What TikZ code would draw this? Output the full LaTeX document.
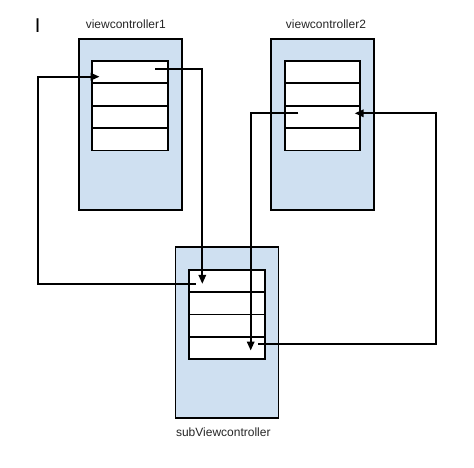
\documentclass[tikz,border=0pt]{standalone}
\usepackage{fontspec}
\setmainfont{Liberation Sans}
\usetikzlibrary{arrows.meta}
\definecolor{panelblue}{RGB}{207,224,241}
\tikzset{
  x=1pt, y=-1pt,
  panel/.style={draw=black, fill=panelblue, line width=1.8pt, minimum width=103pt, minimum height=171pt, inner sep=0pt, outer sep=0pt},
  row/.style={draw=black, fill=white, line width=1.8pt, minimum width=75.5pt, minimum height=22.4pt, inner sep=0pt, outer sep=0pt},
  label/.style={font=\fontsize{12}{14}\selectfont, text=black!85, inner sep=0pt},
  link/.style={draw=black, line width=1.8pt},
  arrowlink/.style={link, -{Triangle[length=9pt,width=7.5pt]}},
}
\begin{document}
\begin{tikzpicture}
\useasboundingbox (0,0) rectangle (474,468);
% cursor mark
\node[inner sep=0pt, font=\fontsize{20}{20}\selectfont] (cursor) at (37.7,25.5) {I};
% labels
\node[label] (l1) at (125.8,24.7) {viewcontroller1};
\node[label] (l2) at (326,24.7) {viewcontroller2};
\node[label] (l3) at (223.3,432.3) {subViewcontroller};
% panels
\node[panel] (vc1) at (130.2,124.7) {};
\node[panel] (vc2) at (322.7,124.7) {};
\node[panel] (sub) at (227,332.8) {};
% rows
\foreach \i in {1,2,3,4} {
  \node[row] (v1r\i) at (130,{61+11.2+(\i-1)*22.4}) {};
  \node[row] (v2r\i) at (322.5,{61+11.2+(\i-1)*22.4}) {};
  \node[row] (sr\i) at (227,{269.7+11.2+(\i-1)*22.35}) {};
}
% connector end points
\coordinate (v1out) at (155,69);
\coordinate (v1in) at (99.5,76.7);
\coordinate (v2out) at (298.3,113.3);
\coordinate (v2in) at (354.7,113.3);
\coordinate (s1out) at (195.7,284.3);
\coordinate (s1in) at (202.3,283.8);
\coordinate (s4out) at (258.3,344);
\coordinate (s4in) at (250.7,350.5);
\coordinate (lc) at (37.7,284.3);
\coordinate (rc) at (436,344);
% connectors
\draw[arrowlink] (s1out) -- (lc) |- (v1in);
\draw[arrowlink] (v1out) -| (s1in);
\draw[arrowlink] (v2out) -| (s4in);
\draw[arrowlink] (s4out) -- (rc) |- (v2in);
\end{tikzpicture}
\end{document}
